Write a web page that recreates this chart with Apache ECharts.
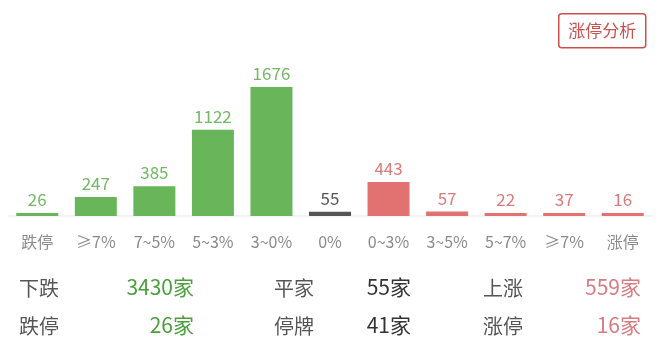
<!DOCTYPE html>
<html>
<head>
<meta charset="utf-8">
<script src="https://cdn.jsdelivr.net/npm/echarts@6/dist/echarts.min.js"></script>
<style>
  html, body { margin: 0; padding: 0; background: #fff; }
  #main { width: 660px; height: 357px; }
</style>
</head>
<body>
<div id="main"></div>
<script>
// 涨跌分布
const categories = ['跌停', '≥7%', '7~5%', '5~3%', '3~0%', '0%', '0~3%', '3~5%', '5~7%', '≥7%', '涨停'];
const counts = [26, 247, 385, 1122, 1676, 55, 443, 57, 22, 37, 16];
// 每个区间属于下跌/平盘/上涨
const trend = ['down', 'down', 'down', 'down', 'down', 'flat', 'up', 'up', 'up', 'up', 'up'];

// 底部统计
const summaryNames = [['下跌', '平家', '上涨'], ['跌停', '停牌', '涨停']];
const summaryValues = [[3430, 55, 559], [26, 41, 16]];
const summaryTrend = ['down', 'flat', 'up'];

const FONT = '"Noto Sans CJK SC", "Noto Sans", sans-serif';
const barColor = { down: '#69b65a', flat: '#555555', up: '#e27171' };
const labelColor = { down: '#72b865', flat: '#555555', up: '#d97a7b' };
const sumColor = { down: '#4b9f3c', flat: '#333333', up: '#d67c82' };

const chart = echarts.init(document.getElementById('main'));

// 底部文字
const graphics = [];
const nameX = [19, 274, 483];
const valueRight = [194, 411, 641];
const rowY = [289, 327];
summaryNames.forEach((row, r) => {
  row.forEach((name, c) => {
    graphics.push({
      type: 'text', left: nameX[c], top: rowY[r] - 11,
      style: { text: name, fill: '#555', font: '20px ' + FONT }
    });
    graphics.push({
      type: 'text', right: 660 - valueRight[c], top: rowY[r] - 12,
      style: { text: summaryValues[r][c] + '家', fill: sumColor[summaryTrend[c]], font: '21px ' + FONT }
    });
  });
});

// 右上角按钮
graphics.push({
  type: 'group', left: 558, top: 13,
  children: [
    { type: 'rect', shape: { x: 0, y: 0, width: 87, height: 34, r: 3 },
      style: { fill: '#fff', stroke: '#cc4f4f', lineWidth: 1.5 } },
    { type: 'text', x: 43.5, y: 17,
      style: { text: '涨停分析', fill: '#c9514f', font: '17px ' + FONT, align: 'center', verticalAlign: 'middle' } }
  ]
});

const option = {
  animation: false,
  grid: { left: 8, right: 8, top: 87, bottom: 141 },
  xAxis: {
    type: 'category',
    data: categories,
    axisLine: { lineStyle: { color: '#eeeeee', width: 1.5 } },
    axisTick: { show: false },
    axisLabel: { color: '#8a8a8a', fontSize: 16, fontFamily: FONT, margin: 18, interval: 0 }
  },
  yAxis: {
    type: 'value', min: 0, max: 1676, show: false,
    splitLine: { show: false }
  },
  series: [{
    type: 'bar',
    barWidth: 42,
    barMinHeight: 3,
    data: counts.map((v, i) => ({
      value: v,
      itemStyle: { color: barColor[trend[i]] },
      label: { color: labelColor[trend[i]] }
    })),
    label: {
      show: true, position: 'top', distance: 5,
      fontSize: 17, fontFamily: FONT
    }
  }],
  graphic: graphics
};

chart.setOption(option);
</script>
</body>
</html>
